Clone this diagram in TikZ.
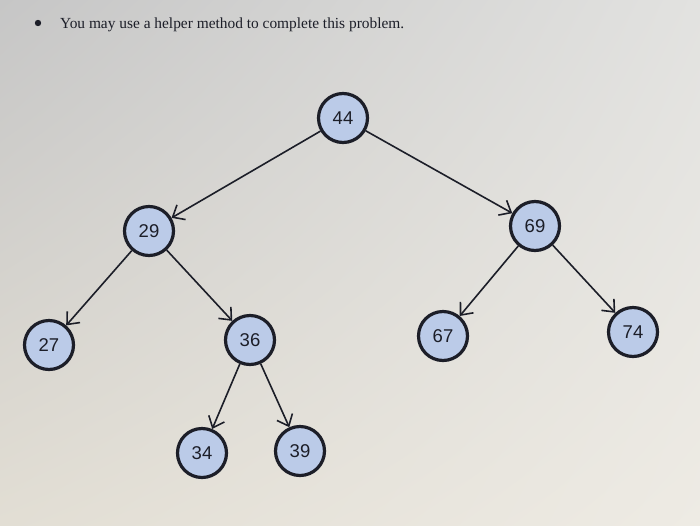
\documentclass[tikz,border=0pt]{standalone}
\usepackage{fontspec}
\setmainfont{Liberation Serif}
\newfontfamily\numfont{Liberation Sans}
\usepackage{tikz}
\usetikzlibrary{arrows.meta}
\usetikzlibrary{shadings}
\usepackage{xcolor}
\definecolor{nodeblue}{RGB}{187,203,232}
\definecolor{ink}{RGB}{28,30,40}
\definecolor{bgtl}{RGB}{198,198,198}
\definecolor{bgtr}{RGB}{226,226,224}
\definecolor{bgbl}{RGB}{226,222,212}
\definecolor{bgbr}{RGB}{238,235,228}

\begin{document}
\begin{tikzpicture}[x=1pt, y=-1pt,
		key/.style = {circle, draw=ink, line width=3.2pt, fill=nodeblue, minimum size=49pt, inner sep=0pt, text=ink, font=\numfont\fontsize{18.5}{18.5}\selectfont},
		link/.style = {draw=ink, line width=1.6pt, -{Straight Barb[length=10pt, width=17pt, line width=1.6pt]}}]
		\useasboundingbox (0,0) rectangle (700,525);
		\shade[upper left=bgtl, upper right=bgtr, lower left=bgbl, lower right=bgbr] (0,0) rectangle (700,525);
		\fill[ink] (38,23) circle (3.2pt);
		\node[anchor=base west, inner sep=0pt, text=ink, font=\fontsize{15.4}{17}\selectfont] (hint) at (60,28) {You may use a helper method to complete this problem.};
		\node[key] (n44) at (343,118) {44};
		\node[key] (n29) at (149,231) {29};
		\node[key] (n69) at (535,226) {69};
		\node[key] (n27) at (49,345) {27};
		\node[key] (n36) at (250,340) {36};
		\node[key] (n67) at (443,336) {67};
		\node[key] (n74) at (633,332) {74};
		\node[key] (n34) at (202,453) {34};
		\node[key] (n39) at (300,451) {39};
		\draw[link] (n44) edge (n29) edge (n69);
		\draw[link] (n29) edge (n27) edge (n36);
		\draw[link] (n69) edge (n67) edge (n74);
		\draw[link] (n36) edge (n34) edge (n39);
	\end{tikzpicture}
\end{document}
